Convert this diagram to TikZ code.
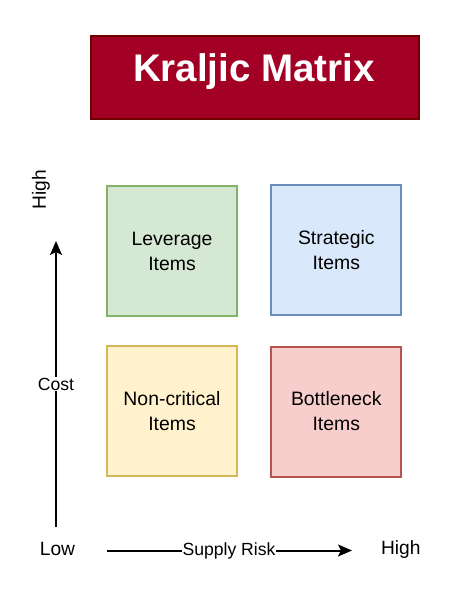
\documentclass[tikz,border=0pt]{standalone}
\usepackage{fontspec}
\setmainfont{Liberation Sans}
\usetikzlibrary{arrows.meta}
\definecolor{titlefill}{HTML}{A20025}
\definecolor{titledraw}{HTML}{6F0000}
\definecolor{gfill}{HTML}{D5E8D4}\definecolor{gdraw}{HTML}{82B366}
\definecolor{bfill}{HTML}{DAE8FC}\definecolor{bdraw}{HTML}{6C8EBF}
\definecolor{yfill}{HTML}{FFF2CC}\definecolor{ydraw}{HTML}{D6B656}
\definecolor{rfill}{HTML}{F8CECC}\definecolor{rdraw}{HTML}{B85450}
\tikzset{
  quad/.style={draw, line width=2pt, minimum width=130pt, minimum height=130pt, inner sep=0pt,
    align=center, font=\fontsize{19.4}{25}\selectfont},
  axislbl/.style={font=\fontsize{17.6}{20}\selectfont, fill=white, inner sep=1pt},
  endlbl/.style={font=\fontsize{19.2}{22}\selectfont, inner sep=0pt},
  axis/.style={line width=2pt, -{Stealth[length=14pt,width=12pt,inset=3pt]}},
}
\begin{document}
\begin{tikzpicture}[x=1pt,y=-1pt]
\useasboundingbox (0,0) rectangle (468,606);
\node[draw=titledraw, fill=titlefill, line width=2pt, minimum width=328pt, minimum height=83pt, inner sep=0pt] (titlebox) at (254.5,77) {};
\node[anchor=base, text=white, font=\fontsize{38.5}{40}\selectfont\bfseries, inner sep=0pt] (title) at (254,81.7) {Kraljic Matrix};
\node[quad, fill=gfill, draw=gdraw] (lev) at (172,251) {Leverage\\Items};
\node[quad, fill=bfill, draw=bdraw] (str) at (336.3,250) {Strategic\\Items};
\node[quad, fill=yfill, draw=ydraw] (non) at (172,411.3) {Non-critical\\Items};
\node[quad, fill=rfill, draw=rdraw] (bot) at (336.3,411.5) {Bottleneck\\Items};
\node[endlbl, rotate=90] (highv) at (41,190) {High};
\node[endlbl] (low) at (57.5,549) {Low};
\node[endlbl] (highh) at (400.8,549.5) {High};
\coordinate (vbot) at (56,527);
\coordinate (vtop) at (56,241);
\coordinate (hleft) at (107,550.5);
\coordinate (hright) at (352,550.5);
\draw[axis] (vbot) -- node[axislbl, pos=0.5] (cost) {Cost} (vtop);
\draw[axis] (hleft) -- node[axislbl, pos=0.5, xshift=-0.5pt] (risk) {Supply Risk} (hright);
\end{tikzpicture}
\end{document}
